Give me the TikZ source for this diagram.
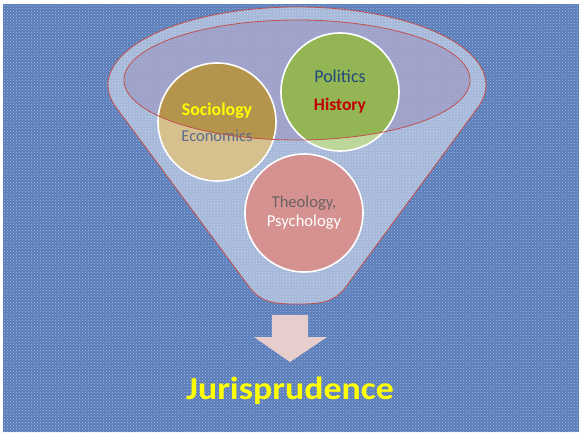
\documentclass[tikz,border=0pt]{standalone}
\usepackage{fontspec}
\setmainfont{Carlito}
\newfontfamily\jurisfont[FakeStretch=1.12]{Carlito}
\usetikzlibrary{patterns}
\definecolor{BackBlue}{HTML}{5A7DB9}
\definecolor{WeaveBlue}{HTML}{A3BBE4}
\definecolor{FunnelRed}{HTML}{C0504D}
\definecolor{MouthPurple}{HTML}{9A94C0}
\definecolor{SocDark}{HTML}{B5954B}
\definecolor{SocLight}{HTML}{D5C08E}
\definecolor{PolDark}{HTML}{93B553}
\definecolor{PolLight}{HTML}{BDD69A}
\definecolor{TheoPink}{HTML}{D69290}
\definecolor{EconGray}{HTML}{5B6A8E}
\definecolor{PolBlue}{HTML}{1F497D}
\definecolor{HistRed}{HTML}{C00000}
\definecolor{TheoGray}{HTML}{6B6363}
\definecolor{ArrowPink}{HTML}{E8CDCD}
\definecolor{JurisYellow}{HTML}{FFFF00}

\begin{document}
\begin{tikzpicture}[x=1pt,y=-1pt,
    bubble/.style 2 args={circle,draw=white,line width=1.6pt,fill=#2,
      minimum size=118pt,inner sep=0pt,align=center,
      font=\fontsize{18}{21}\selectfont,
      path picture={\fill[#1] (mouth) ellipse [x radius=173, y radius=60];}},
    rim/.style={draw=FunnelRed,line width=0.8pt}
  ]
  \useasboundingbox (0,0) rectangle (584,439);
  % textured backdrop
  \fill[BackBlue] (3,4) rectangle (579,432);
  \fill[pattern=crosshatch dots,pattern color=WeaveBlue] (3,4) rectangle (579,432);
  \coordinate (mouth) at (297,80);
  \coordinate (top) at (297,85);
  % funnel body
  \path[fill=white,fill opacity=0.45]
    (top) ++(165:189 and 78) arc [start angle=165,end angle=375,x radius=189,y radius=78]
    -- (345,288) .. controls (333,303) and (320,304) .. (297,304)
    .. controls (275,304) and (262,303) .. (250,288) -- cycle;
  \fill[MouthPurple,fill opacity=0.6] (mouth) ellipse [x radius=173, y radius=60];
  % the three fields
  \node[bubble={SocDark}{SocLight}] (soc) at (217,122)
    {\textcolor{JurisYellow}{\fontsize{17.8}{21}\selectfont\bfseries Sociology}\\[5pt]%
     \textcolor{EconGray}{\fontsize{16.5}{21}\selectfont Economics}};
  \node[bubble={PolDark}{PolLight}] (pol) at (340,92)
    {\textcolor{PolBlue}{Politics}\\[7pt]\textcolor{HistRed}{\fontsize{17.5}{21}\selectfont\bfseries History}};
  \node[bubble={TheoPink}{TheoPink},font=\fontsize{16.6}{19}\selectfont] (theo) at (304,213)
    {\textcolor{TheoGray}{Theology,}\\\textcolor{white}{Psychology}};
  % rims on top
  \draw[rim] (mouth) ellipse [x radius=173, y radius=60];
  \draw[rim]
    (top) ++(165:189 and 78) arc [start angle=165,end angle=375,x radius=189,y radius=78]
    -- (345,288) .. controls (333,303) and (320,304) .. (297,304)
    .. controls (275,304) and (262,303) .. (250,288) -- cycle;
  % outflow
  \fill[ArrowPink] (272,315) -- (308,315) -- (308,337) -- (327,337) -- (290,362)
    -- (254,337) -- (272,337) -- cycle;
  \node[text=JurisYellow,font=\jurisfont\fontsize{32}{38}\selectfont\bfseries] (juris) at (290,391) {Jurisprudence};
\end{tikzpicture}
\end{document}
